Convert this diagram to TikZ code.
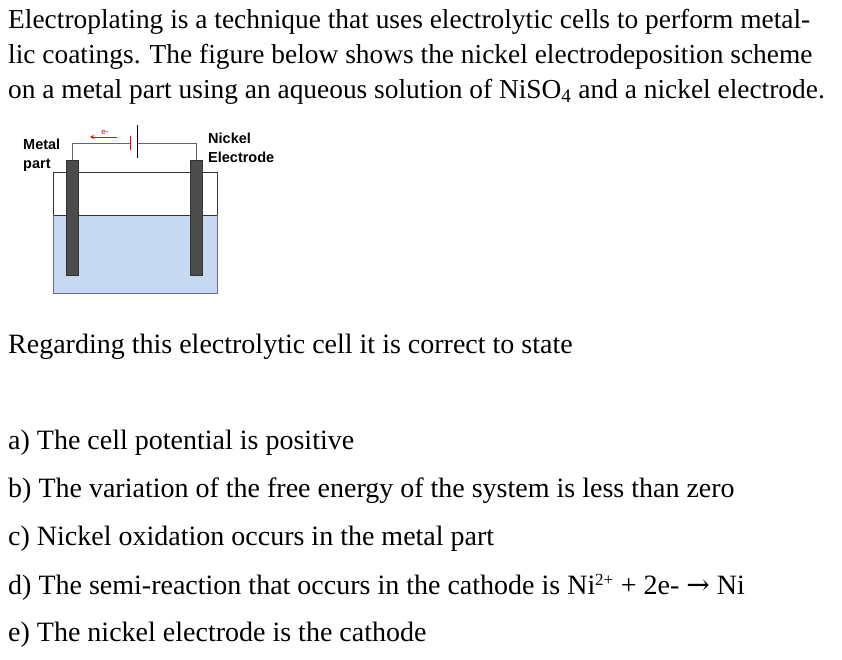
\documentclass[tikz,border=0pt]{standalone}
\usepackage{fontspec}
\usetikzlibrary{arrows.meta}
\setmainfont{Liberation Serif}
\newfontfamily\lab{Liberation Sans}
\newfontfamily\arr{DejaVu Serif}
\definecolor{water}{HTML}{C6D9F1}
\begin{document}
\begin{tikzpicture}[x=1pt,y=-1pt,
  txt/.style={anchor=west,inner sep=0pt,font=\fontsize{27.4}{35}\selectfont},
  txtb/.style={anchor=west,inner sep=0pt,font=\fontsize{28}{35}\selectfont},
  lbl/.style={anchor=west,inner sep=0pt,align=left,font=\lab\bfseries\fontsize{14.5}{19}\selectfont},
  rod/.style={fill=black!70,draw=black!80},
  wire/.style={draw=black!60,line width=0.8pt}]
\useasboundingbox (0,0) rectangle (842,659);
\node[txt] (l1) at (8,22) {Electroplating is a technique that uses electrolytic cells to perform metal-};
\node[txt] (l2) at (8,57) {lic coatings. The figure below shows the nickel electrodeposition scheme};
\node[txt] (l3) at (8,92) {on a metal part using an aqueous solution of NiSO\textsubscript{4} and a nickel electrode.};
% beaker
\fill[water] (53,215) rectangle (217,293);
\draw[black!80,line width=0.9pt] (53,172) rectangle (217,293);
\draw[black!80,line width=0.9pt] (53,215) -- (217,215);
\draw[blue!40!black!60,line width=0.9pt] (53,215) -- (53,293) -- (217,293) -- (217,215);
\draw[rod] (66,160) rectangle (78,275);
\draw[rod] (190,160) rectangle (202,275);
\coordinate (la) at (72,160);
\coordinate (ra) at (196,160);
\coordinate (bn) at (130,143);
\coordinate (bp) at (137,143);
\draw[wire] (la) |- (bn);
\draw[wire] (ra) |- (bp);
\draw[red,line width=1pt] (130,136) -- (130,150);
\draw[black,line width=1pt] (137,125) -- (137,158);
\coordinate (ea) at (117,137);
\coordinate (eb) at (90,137);
\draw[red,line width=0.7pt,-{Stealth[length=4pt,width=4pt]}] (ea) -- (eb);
\node[red,inner sep=0pt,font=\lab\fontsize{8}{8}\selectfont] (e) at (105,132) {e-};
\node[lbl] (mp) at (23,155) {Metal\\part};
\node[lbl] (ne) at (208,148) {Nickel\\Electrode};
\node[txtb] (q) at (8,347) {Regarding this electrolytic cell it is correct to state};
\node[txtb] (a) at (8,443) {a) The cell potential is positive};
\node[txtb] (b) at (8,491) {b) The variation of the free energy of the system is less than zero};
\node[txtb] (c) at (8,539) {c) Nickel oxidation occurs in the metal part};
\node[txtb] (d) at (8,587) {d) The semi-reaction that occurs in the cathode is Ni\textsuperscript{\fontsize{17}{17}\selectfont 2+} + 2e- {\arr →} Ni};
\node[txtb] (e2) at (8,635) {e) The nickel electrode is the cathode};
\end{tikzpicture}
\end{document}
